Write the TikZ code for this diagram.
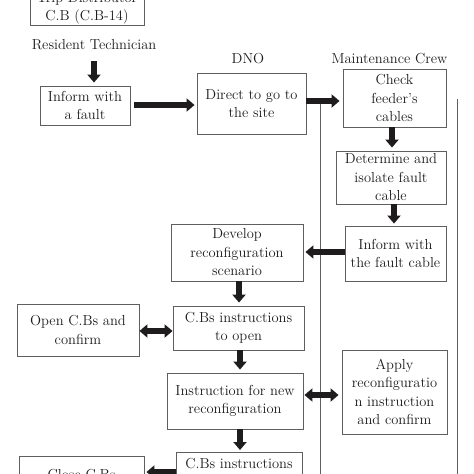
\documentclass[tikz,border=0pt]{standalone}
\usetikzlibrary{arrows.meta}
\definecolor{boxgray}{RGB}{95,95,95}
\definecolor{ink}{RGB}{30,28,28}
\begin{document}
\begin{tikzpicture}[x=1pt,y=-1pt,
  txt/.style={font=\fontsize{14.5}{18.5}\selectfont,text=ink},
  box/.style={txt,draw=boxgray,line width=0.9pt,inner sep=0pt,align=center},
  lbl/.style={txt,inner sep=0pt},
  bigarrow/.style={draw=ink,line width=6.5pt,-{Triangle[length=8pt,width=13pt]}},
  dblarrow/.style={draw=ink,line width=6.5pt,{Triangle[length=8pt,width=13pt]}-{Triangle[length=8pt,width=13pt]}},
  lane/.style={draw=boxgray,line width=0.9pt}]
\useasboundingbox (0,0) rectangle (474,474);
\clip (0,0) rectangle (474,474);
\fill[white] (0,0) rectangle (474,474);

% top clipped box
\node[box,minimum width=114pt,minimum height=56pt,anchor=south] (trip) at (87,26) {};
\node[lbl,anchor=base] (tripA) at (87,2) {Trip Distributor};
\node[lbl,anchor=base] (tripB) at (87,20.5) {C.B (C.B-14)};

% lane labels
\node[lbl,anchor=base] (rt) at (94,49) {Resident Technician};
\node[lbl,anchor=base] (dnolbl) at (248,63) {DNO};
\node[lbl,anchor=base] (mc) at (389.5,63) {Maintenance Crew};

% boxes
\node[box,minimum width=90pt,minimum height=39pt] (inform) at (85,105.5) {Inform with\\a fault};
\node[box,minimum width=109pt,minimum height=61pt] (dno) at (251.5,103.5) {Direct to go to\\the site};
\node[box,minimum width=103pt,minimum height=58pt] (check) at (394.5,98) {Check\\feeder's\\cables};
\node[box,minimum width=110pt,minimum height=53pt] (determine) at (391,177.5) {Determine and\\isolate fault\\cable};
\node[box,minimum width=101pt,minimum height=55pt] (infcable) at (395.5,253.5) {Inform with\\the fault cable};
\node[box,minimum width=132pt,minimum height=57pt] (develop) at (237,252.5) {Develop\\reconfiguration\\scenario};
\node[box,minimum width=131pt,minimum height=44pt] (cbsopen) at (238.5,328) {C.Bs instructions\\to open};
\node[box,minimum width=122pt,minimum height=52pt] (openbox) at (78,330) {Open C.Bs and\\confirm};
\node[box,minimum width=136pt,minimum height=56pt] (instr) at (235,401) {Instruction for new\\reconfiguration};
\node[box,minimum width=105pt,minimum height=84pt] (apply) at (394.5,392) {Apply\\reconfiguratio\\n instruction\\and confirm};
\node[box,minimum width=126pt,minimum height=50pt,anchor=north] (cbsclose) at (239,452) {};
\node[lbl,anchor=base] (cbscloseA) at (239,468) {C.Bs instructions};
\node[box,minimum width=125pt,minimum height=50pt,anchor=north] (closebox) at (81.5,456) {};
\node[lbl,anchor=base] (closeA) at (81.5,479) {Close C.Bs};

% lanes
\coordinate (laneA) at (320,101);
\coordinate (laneAend) at (320,480);
\coordinate (laneB) at (457,99);
\coordinate (laneBend) at (457,480);
\draw[lane] (laneA) -- (laneAend);
\draw[lane] (laneB) -- (laneBend);

% arrows
\draw[bigarrow,shorten <=11pt,shorten >=3pt] (rt.south) -- (rt.south |- inform.north);
\draw[bigarrow,shorten <=4pt,shorten >=2pt] ([yshift=0.5pt]inform.east) -- ([yshift=0.5pt]inform.east -| dno.west);
\draw[bigarrow,shorten >=3pt] ([yshift=2.5pt]dno.east) -- ([yshift=2.5pt]dno.east -| check.west);
\draw[bigarrow,shorten >=3pt] ([xshift=-2.5pt]check.south) -- ([xshift=-2.5pt]check.south |- determine.north);
\draw[bigarrow,shorten >=2pt] ([xshift=3pt]determine.south) -- ([xshift=3pt]determine.south |- infcable.north);
\draw[bigarrow,shorten >=2pt] ([yshift=1.5pt]infcable.west) -- ([yshift=1.5pt]infcable.west -| develop.east);
\draw[bigarrow,shorten >=3pt] ([xshift=2pt]develop.south) -- ([xshift=2pt]develop.south |- cbsopen.north);
\draw[dblarrow] ([yshift=-1pt]openbox.east) -- ([yshift=-1pt]openbox.east -| cbsopen.west);
\draw[bigarrow,shorten >=3pt] ([xshift=1.5pt]cbsopen.south) -- ([xshift=1.5pt]cbsopen.south |- instr.north);
\draw[dblarrow,shorten <=1pt,shorten >=3pt] ([yshift=6pt]instr.east) -- ([yshift=6pt]instr.east -| apply.west);
\draw[bigarrow,shorten >=2pt] ([xshift=5pt]instr.south) -- ([xshift=5pt]instr.south |- cbsclose.north);
\draw[bigarrow,shorten >=2pt] ([yshift=-20pt]cbsclose.north west) -- ([yshift=-20pt]cbsclose.north west -| closebox.east);
\end{tikzpicture}
\end{document}
